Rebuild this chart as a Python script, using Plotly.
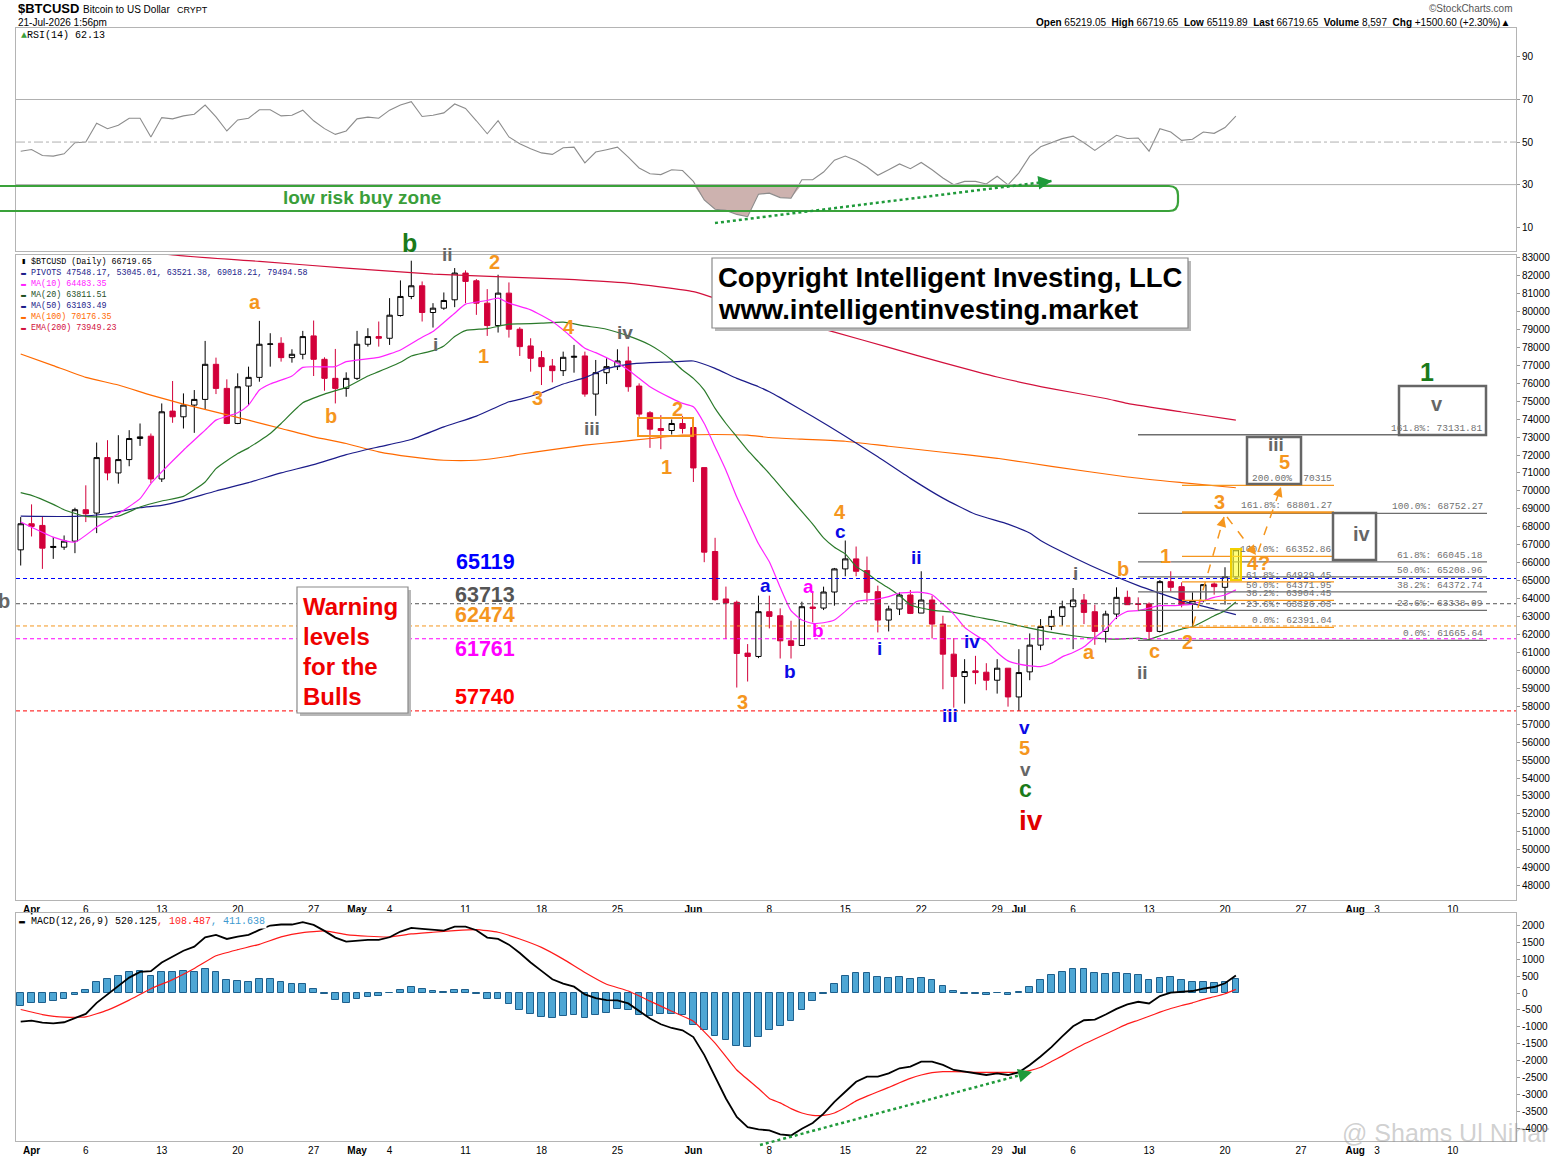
import pandas as pd
import numpy as np
import plotly.graph_objects as go
from plotly.subplots import make_subplots

# ---- data (daily, 31-Mar-2026 .. 21-Jul-2026) ----
dates = pd.date_range("2026-03-31", periods=113, freq="D")

opens = [66717, 68170, 68077, 66848, 66866, 67202, 68953, 68767, 71859, 71002,
         71747, 72921, 73051, 70667, 74449, 74132, 74784, 75101, 77057, 75716,
         73760, 75846, 76330, 78175, 78230, 77430, 77616, 78641, 77336, 76275,
         75716, 76275, 78175, 78603, 78510, 79777, 80839, 81435, 79945, 80187,
         80653, 82143, 81714, 80466, 79218, 81025, 79013, 78081, 77430, 76964,
         76703, 77448, 77523, 75399, 76591, 76927, 77243, 75846, 74356, 73480,
         73368, 73759, 73536, 71300, 66624, 63978, 63792, 60960, 60774, 63268,
         63044, 61647, 61386, 63529, 63473, 64367, 65653, 66212, 65559, 64386,
         62802, 63417, 64199, 63193, 63920, 62579, 60902, 59654, 59971, 59896,
         59449, 60120, 58517, 59914, 61405, 62448, 63007, 63547, 63920, 63268,
         62169, 63137, 64069, 63715, 63696, 62169, 64944, 64665, 63696, 63883,
         64814, 64628, 65219.05]
highs = [68543, 69251, 68580, 67425, 67518, 69065, 70313, 72697, 72828, 73107,
         73387, 73759, 73200, 74877, 76126, 75436, 75622, 78361, 77430, 76219,
         76554, 76927, 79479, 78790, 78566, 77895, 78920, 79497, 77448, 77914,
         76610, 78920, 79069, 79442, 80746, 81733, 82832, 81677, 80466, 81062,
         82422, 82292, 81807, 81248, 82050, 81621, 79125, 78510, 77802, 77355,
         77765, 78138, 77765, 77299, 77392, 77895, 78044, 75995, 74449, 74225,
         73983, 74169, 73573, 71300, 67388, 64668, 63886, 61464, 64165, 64162,
         63454, 62765, 63827, 64311, 64665, 65708, 67236, 66901, 66342, 64721,
         63603, 64348, 64479, 65522, 64162, 63044, 61796, 60623, 60809, 60399,
         60623, 60120, 61181, 62057, 62858, 63361, 63883, 64590, 64255, 63659,
         63324, 64627, 64441, 64069, 63790, 65038, 65522, 64907, 64348, 64814,
         64907, 65746, 66719.65]
lows = [65842, 67462, 65655, 66214, 66717, 66531, 68264, 67649, 70592, 70406,
        71375, 72511, 70443, 70499, 73797, 73480, 73238, 74542, 75399, 73722,
        73722, 74784, 76088, 76927, 77206, 77150, 77336, 76405, 75585, 74877,
        75250, 76181, 78044, 78044, 78138, 79721, 80690, 79442, 79106, 80094,
        80243, 80466, 79814, 78641, 78827, 78547, 77523, 76647, 75902, 76051,
        76405, 76591, 75250, 74188, 75958, 76740, 75529, 74132, 72400, 72325,
        73145, 73201, 70499, 66028, 63886, 61743, 59042, 59377, 60681, 62336,
        60660, 60660, 61386, 62672, 63361, 63603, 65243, 65243, 63790, 62113,
        62169, 63082, 63138, 63193, 61777, 58946, 57921, 58145, 59225, 58890,
        58704, 57977, 57740, 59449, 61125, 62243, 62485, 61181, 62579, 61424,
        61554, 62858, 63659, 63324, 61647, 62113, 64404, 63510, 62392, 63790,
        64218, 63659, 65119.89]
closes = [68170, 68022, 66810, 66904, 67202, 68953, 68730, 71859, 71002, 71747,
          72921, 73014, 70667, 74411, 74132, 74784, 75101, 77057, 75716, 73760,
          75809, 76330, 78175, 78190, 77430, 77616, 78603, 77336, 76275, 75716,
          76275, 78175, 78603, 78510, 79795, 80839, 81435, 79945, 80187, 80615,
          82143, 81677, 80466, 79218, 81025, 79013, 78044, 77392, 76927, 76703,
          77448, 77500, 75399, 76591, 76927, 77243, 75809, 74281, 73443, 73368,
          73759, 73480, 71281, 66587, 63941, 63755, 60942, 60774, 63270, 63007,
          61647, 61386, 63547, 63454, 64367, 65653, 66212, 65522, 64348, 62802,
          63417, 64199, 63175, 63920, 62579, 60902, 59654, 59933, 59877, 59449,
          60120, 58517, 59877, 61405, 62448, 63007, 63547, 63920, 63231, 62169,
          63137, 64069, 63659, 63678, 62169, 64944, 64628, 63659, 63883, 64777,
          64665, 65219, 66719.65]

# moving averages, read at sample days (index into dates)
ma10_idx = [0, 3, 5, 7, 9, 11, 12, 13, 15, 17, 18, 20, 21, 22, 23, 25, 26, 29, 30, 33,
            35, 37, 38, 40, 41, 43, 44, 45, 47, 49, 50, 52, 53, 55, 56, 57, 58, 60, 61, 62,
            63, 64, 65, 66, 67, 68, 69, 70, 71, 72, 73, 74, 75, 76, 77, 78, 79, 80, 81, 82,
            83, 84, 85, 86, 87, 88, 89, 90, 91, 92, 93, 94, 95, 96, 97, 98, 99, 100, 101, 102,
            103, 104, 105, 106, 107, 108, 109, 110, 111, 112]
ma10_val = [68264, 67425, 67145, 67984, 68730, 69568, 70406, 71058, 72269, 73387,
            73946, 74355, 74784, 75623, 75958, 76405, 76889, 76927, 77206, 77448,
            77858, 78566, 78883, 79907, 80410, 80615, 80746, 80466, 80094, 79442,
            78976, 77951, 77709, 77113, 76740, 76275, 75809, 75157, 74877, 74691,
            73759, 72455, 71151, 69660, 68357, 67053, 66050, 64628, 63324, 62802,
            62616, 62653, 62802, 63287, 63827, 63920, 63976, 64106, 64311, 64348,
            64348, 64218, 63696, 63137, 62392, 61964, 61591, 60995, 60529, 60343,
            60250, 60213, 60399, 60753, 60995, 61312, 61833, 62299, 62951, 63286,
            63324, 63473, 63603, 63603, 63640, 63696, 63883, 64069, 64199, 64483.35]

ma20_idx = [0, 1, 3, 4, 6, 9, 11, 13, 15, 17, 18, 20, 21, 23, 24, 26, 28, 30, 32, 33,
            35, 36, 38, 39, 40, 41, 43, 45, 46, 48, 50, 52, 54, 56, 58, 59, 60, 61, 62, 63,
            64, 65, 66, 67, 68, 69, 71, 73, 74, 75, 76, 77, 78, 79, 80, 81, 82, 83, 84, 86,
            88, 90, 92, 93, 95, 97, 99, 101, 103, 104, 105, 107, 108, 110, 111, 112]
ma20_val = [69903, 69754, 69251, 68953, 68580, 68599, 69102, 69437, 69698, 70499,
            71244, 72083, 72399, 73200, 73759, 74914, 75399, 75771, 76405, 76647,
            77169, 77523, 77821, 78081, 78603, 78938, 79050, 79293, 79311, 79348,
            79404, 79199, 79013, 78641, 78138, 77765, 77299, 76740, 76275, 75622,
            74598, 73759, 73014, 72269, 71617, 70965, 69550, 68150, 67385, 66864,
            66491, 65783, 65410, 64963, 64591, 64162, 63659, 63473, 63361, 63231,
            62988, 62765, 62486, 62355, 62113, 61927, 61796, 61740, 61796, 61721,
            61927, 62299, 62430, 63044, 63324, 63811.51]

ma50_idx = [0, 5, 8, 11, 13, 15, 18, 21, 24, 27, 30, 33, 36, 39, 42, 45, 46, 48, 50, 52,
            54, 56, 58, 60, 62, 64, 66, 68, 69, 70, 73, 76, 79, 82, 85, 88, 91, 93, 94, 97,
            100, 103, 105, 107, 110, 112]
ma50_val = [68599, 68580, 68729, 69065, 69195, 69475, 69997, 70462, 71002, 71468,
            72027, 72455, 72865, 73573, 74169, 74970, 75101, 75474, 75958, 76312,
            76815, 77057, 77150, 77188, 77243, 76833, 76275, 75809, 75529, 75200,
            74150, 73050, 71900, 70700, 69600, 68700, 68150, 67650, 67236, 66305,
            65466, 64721, 64293, 63883, 63417, 63103.49]

ma100_idx = [0, 3, 6, 9, 12, 15, 18, 21, 24, 27, 30, 33, 36, 39, 42, 45, 46, 49, 52, 55,
             58, 61, 64, 67, 69, 72, 76, 80, 85, 90, 95, 102, 107, 112]
ma100_val = [77634, 76982, 76330, 75902, 75343, 74840, 74393, 73946, 73480, 73014,
             72642, 72176, 71897, 71711, 71711, 71934, 72045, 72306, 72548, 72734,
             72921, 73107, 73145, 73107, 72977, 72882, 72770, 72491, 72155, 71820,
             71373, 70775, 70462, 70176.35]

ema200_idx = [0, 7, 14, 22, 30, 38, 45, 50, 56, 62, 64, 66, 70, 75, 80, 85, 90, 95, 100,
              102, 107, 112]
ema200_val = [84500, 83800, 83150, 82795, 82422, 82087, 81919, 81808, 81584, 81105,
              80737, 80380, 79700, 78850, 78000, 77150, 76350, 75700, 75150, 74877,
              74400, 73949.23]

rsi = [45.7, 46.5, 43.7, 43.4, 44.5, 49.7, 50.0, 58.8, 56.3, 57.9,
       61.2, 61.2, 52.4, 61.5, 60.9, 62.3, 63.1, 67.4, 61.8, 55.2,
       60.4, 61.2, 65.2, 65.2, 62.3, 62.6, 65.0, 60.0, 56.3, 53.6,
       55.2, 60.9, 61.7, 61.2, 65.0, 67.4, 69.0, 62.0, 62.6, 63.7,
       67.9, 65.8, 60.0, 53.9, 60.0, 52.4, 49.2, 46.8, 44.9, 44.2,
       47.3, 47.6, 40.2, 45.3, 46.4, 47.6, 42.9, 37.8, 35.1, 34.7,
       37.0, 36.6, 31.5, 22.8, 18.4, 17.9, 16.0, 14.9, 25.5, 26.0,
       23.9, 23.6, 32.3, 32.3, 35.9, 41.5, 43.4, 41.3, 38.3, 34.4,
       37.0, 39.7, 37.5, 40.4, 37.0, 33.1, 29.9, 31.5, 31.5, 30.3,
       33.9, 29.9, 35.5, 43.4, 47.8, 49.7, 51.6, 52.8, 49.7, 46.1,
       49.7, 53.2, 51.7, 51.9, 45.7, 56.3, 54.7, 50.8, 51.3, 54.7,
       54.1, 56.8, 62.13]

macd = [-846, -816, -876, -896, -866, -736, -617, -289, -40, 189,
        458, 627, 647, 905, 1075, 1254, 1373, 1652, 1721, 1602,
        1672, 1721, 1871, 2000, 2030, 2030, 2099, 2020, 1841, 1642,
        1522, 1552, 1572, 1572, 1652, 1821, 1930, 1900, 1871, 1851,
        1970, 1970, 1861, 1642, 1602, 1433, 1184, 905, 657, 408,
        279, 189, -40, -149, -209, -219, -308, -537, -756, -925,
        -1035, -1104, -1303, -1831, -2478, -3124, -3672, -3970, -4040, -4070,
        -4189, -4219, -4020, -3851, -3572, -3224, -2925, -2627, -2478, -2478,
        -2378, -2229, -2179, -2030, -2030, -2129, -2279, -2328, -2378, -2428,
        -2378, -2428, -2348, -2129, -1881, -1602, -1284, -985, -806, -786,
        -637, -468, -338, -259, -308, -90, 10, 30, 60, 129,
        179, 289, 520.125]

signal_idx = [0, 2, 4, 6, 8, 10, 12, 14, 16, 18, 20, 22, 24, 26, 28, 30, 32, 34, 36, 38,
              40, 42, 44, 46, 48, 50, 52, 54, 56, 58, 60, 62, 64, 66, 68, 69, 70, 71, 72, 73,
              74, 75, 76, 77, 78, 79, 80, 81, 82, 83, 84, 85, 86, 88, 90, 92, 93, 94, 95, 96,
              97, 98, 99, 100, 101, 102, 103, 104, 105, 106, 107, 108, 109, 110, 111, 112]
signal_val = [-488, -637, -716, -706, -507, -209, 129, 398, 726, 1104,
              1284, 1443, 1662, 1791, 1841, 1731, 1682, 1662, 1751, 1801,
              1851, 1881, 1801, 1602, 1353, 1005, 607, 259, 60, -239,
              -537, -836, -1483, -2279, -2826, -3124, -3254, -3423, -3552, -3622,
              -3622, -3552, -3393, -3194, -3055, -2925, -2796, -2657, -2527, -2428,
              -2358, -2328, -2328, -2348, -2348, -2348, -2298, -2199, -2030, -1861,
              -1682, -1512, -1363, -1214, -1065, -915, -806, -687, -567, -458,
              -368, -289, -189, -109, -20, 108.487]

hist = [-388, -289, -289, -249, -189, -50, 80, 328, 408, 507,
        627, 657, 507, 627, 627, 657, 627, 726, 627, 378,
        358, 328, 428, 428, 328, 259, 259, 109, -20, -219,
        -289, -189, -119, -90, -10, 80, 179, 109, 50, 30,
        80, 80, -40, -189, -189, -338, -488, -607, -706, -736,
        -687, -637, -736, -637, -587, -468, -507, -637, -667, -607,
        -607, -637, -935, -1100, -1264, -1383, -1582, -1602, -1313, -1104,
        -965, -816, -517, -239, -20, 259, 507, 587, 587, 478,
        438, 478, 408, 438, 378, 209, 60, -40, -40, -60,
        -10, -60, 30, 179, 378, 527, 627, 706, 706, 587,
        557, 587, 557, 527, 378, 438, 478, 378, 328, 328,
        289, 328, 411.638]

# warning levels
warn_vals = [65119, 63713, 62474, 61761, 57740]
warn_cols = ["#0000ff", "#555555", "#f5961e", "#ff00ff", "#ff0000"]

# fibonacci sets
fib_g_pct = ["0.0%", "23.6%", "38.2%", "50.0%", "61.8%", "100.0%", "161.8%"]
fib_g_val = [61665.64, 63338.09, 64372.74, 65208.96, 66045.18, 68752.27, 73131.81]
fib_o_pct = ["0.0%", "23.6%", "38.2%", "50.0%", "61.8%", "100.0%", "161.8%", "200.00%"]
fib_o_val = [62391.04, 63326.03, 63904.45, 64371.95, 64929.45, 66352.86, 68801.27, 70315]
fib_o_line = [True, False, True, False, True, True, True, True]

# ---- page geometry ----
# body margin is removed by a post script, so the figure fills the window
W, H = 1565, 1157
ML, MR = 16, 49
PW = W - ML - MR
FONT = "Liberation Sans, Arial, sans-serif"
MONO = "Liberation Mono, DejaVu Sans Mono, monospace"


def X(px):
    return (px - ML) / PW


def Y(py):
    return 1 - py / H


ORANGE = "#f5961e"
GRAY = "#666666"
BLUE = "#0a0ae6"
GREEN = "#1a7a1a"
MAG = "#ff00ff"
RED = "#e00000"
CANDLE_RED = "#d2003a"

fig = make_subplots(rows=3, cols=1, shared_xaxes=True)

# RSI panel
rsi_clip = np.minimum(np.array(rsi), 30)
fig.add_trace(go.Scatter(x=dates, y=[30] * len(dates), mode="lines",
                         line=dict(width=0, color="rgba(0,0,0,0)")), row=1, col=1)
fig.add_trace(go.Scatter(x=dates, y=rsi_clip, mode="lines", fill="tonexty",
                         fillcolor="#cdb2af", line=dict(width=0, color="rgba(0,0,0,0)")),
              row=1, col=1)
fig.add_trace(go.Scatter(x=dates, y=rsi, mode="lines",
                         line=dict(color="#8c8c8c", width=1.1)), row=1, col=1)

# price panel
fig.add_trace(go.Candlestick(
    x=dates, open=opens, high=highs, low=lows, close=closes,
    increasing=dict(line=dict(color="black", width=1), fillcolor="white"),
    decreasing=dict(line=dict(color=CANDLE_RED, width=1), fillcolor=CANDLE_RED),
    whiskerwidth=0), row=2, col=1)

for idx, val, col in [(ema200_idx, ema200_val, "#d2103c"),
                      (ma100_idx, ma100_val, "#ff6a00"),
                      (ma50_idx, ma50_val, "#1c1c8a"),
                      (ma20_idx, ma20_val, "#2b7a2b"),
                      (ma10_idx, ma10_val, "#ff22ff")]:
    fig.add_trace(go.Scatter(x=[dates[i] for i in idx], y=val, mode="lines",
                             line=dict(color=col, width=1.2, shape="spline", smoothing=0.5)),
                  row=2, col=1)

# MACD panel
fig.add_trace(go.Bar(x=dates, y=hist, width=0.62 * 86400000,
                     marker=dict(color="#4ea6d4", line=dict(color="#1d5f8c", width=1))),
              row=3, col=1)
fig.add_trace(go.Scatter(x=[dates[i] for i in signal_idx], y=signal_val, mode="lines",
                         line=dict(color="#ff1a1a", width=1.2, shape="spline", smoothing=0.4)),
              row=3, col=1)
fig.add_trace(go.Scatter(x=dates, y=macd, mode="lines",
                         line=dict(color="black", width=1.8)), row=3, col=1)

# ---- axes ----
x_lo = dates[0] - pd.Timedelta(days=0.433)
x_hi = dates[0] + pd.Timedelta(days=137.82)
tick_dates = ["2026-04-01", "2026-04-06", "2026-04-13", "2026-04-20", "2026-04-27",
              "2026-05-01", "2026-05-04", "2026-05-11", "2026-05-18", "2026-05-25",
              "2026-06-01", "2026-06-08", "2026-06-15", "2026-06-22", "2026-06-29",
              "2026-07-01", "2026-07-06", "2026-07-13", "2026-07-20", "2026-07-27",
              "2026-08-01", "2026-08-03", "2026-08-10"]
tick_text = ["<b>Apr</b>", "6", "13", "20", "27", "<b>May</b>", "4", "11", "18", "25",
             "<b>Jun</b>", "8", "15", "22", "29", "<b>Jul</b>", "6", "13", "20", "27",
             "<b>Aug</b>", "3", "10"]

axis_line = dict(showline=True, mirror=True, linecolor="#b4b4b4", linewidth=1,
                 showgrid=False, zeroline=False, automargin=False)
for k, show in [("xaxis", False), ("xaxis2", True), ("xaxis3", True)]:
    fig.layout[k].update(range=[x_lo, x_hi], tickvals=tick_dates, ticktext=tick_text,
                         showticklabels=show, ticks="", tickfont=dict(size=10, color="black"),
                         rangeslider=dict(visible=False), **axis_line)

price_ticks = list(range(48000, 84000, 1000))
macd_ticks = list(range(-4000, 2500, 500))
fig.layout.yaxis.update(domain=[Y(251), Y(28)], range=[-1.2, 103.6], side="right",
                        tickvals=[10, 30, 50, 70, 90], ticks="outside", ticklen=3,
                        tickcolor="#999", tickfont=dict(size=10), **axis_line)
fig.layout.yaxis2.update(domain=[Y(900), Y(255)], range=[47200, 83150], side="right",
                         tickvals=price_ticks, ticktext=[str(v) for v in price_ticks],
                         ticks="outside", ticklen=3, tickcolor="#999",
                         tickfont=dict(size=10), **axis_line)
fig.layout.yaxis3.update(domain=[Y(1141), Y(913)], range=[-4383, 2371], side="right",
                         tickvals=macd_ticks, ticktext=[str(v) for v in macd_ticks],
                         ticks="outside", ticklen=3, tickcolor="#999",
                         tickfont=dict(size=10), **axis_line)

shapes = []
ann = []


def txt(s, px, py, color="black", size=20, bold=True, xa="center", ya="middle",
        family=FONT, bg=None):
    d = dict(text=f"<b>{s}</b>" if bold else s, x=X(px), y=Y(py), xref="paper",
             yref="paper", xanchor=xa, yanchor=ya, showarrow=False,
             font=dict(color=color, size=size, family=family))
    if bg:
        d["bgcolor"] = bg
    ann.append(d)


def rect(x0, y0, x1, y1, line="#777", lw=1.5, fill=None, shadow=False):
    if shadow:
        shapes.append(dict(type="rect", xref="paper", yref="paper", x0=X(x0 + 3),
                           x1=X(x1 + 3), y0=Y(y1 + 3), y1=Y(y0 + 3),
                           fillcolor="#b8b8b8", line=dict(width=0)))
    shapes.append(dict(type="rect", xref="paper", yref="paper", x0=X(x0), x1=X(x1),
                       y0=Y(y1), y1=Y(y0), fillcolor=fill or "rgba(0,0,0,0)",
                       line=dict(color=line, width=lw)))


def arrow(tail, head, color, dash, width, size=1.2):
    shapes.append(dict(type="line", xref="paper", yref="paper", x0=X(tail[0]),
                       y0=Y(tail[1]), x1=X(head[0]), y1=Y(head[1]),
                       line=dict(color=color, width=width, dash=dash)))
    dx, dy = head[0] - tail[0], head[1] - tail[1]
    n = (dx * dx + dy * dy) ** 0.5
    ann.append(dict(x=X(head[0]), y=Y(head[1]), xref="paper", yref="paper", text="",
                    showarrow=True, ax=-dx / n * 10, ay=-dy / n * 10, arrowhead=2,
                    arrowsize=size, arrowwidth=width, arrowcolor=color))


# RSI reference lines
for lvl, dash in [(70, "solid"), (30, "solid"), (50, "dashdot")]:
    shapes.append(dict(type="line", xref="x domain", yref="y", x0=0, x1=1, y0=lvl, y1=lvl,
                       line=dict(color="#b0b0b0", width=1, dash=dash)))

# low risk buy zone
r = 9
p = (f"M {X(-8)},{Y(186)} L {X(1178 - r)},{Y(186)} Q {X(1178)},{Y(186)} {X(1178)},{Y(186 + r)} "
     f"L {X(1178)},{Y(211 - r)} Q {X(1178)},{Y(211)} {X(1178 - r)},{Y(211)} L {X(-8)},{Y(211)}")
shapes.append(dict(type="path", xref="paper", yref="paper", path=p,
                   line=dict(color="#3aa23a", width=2.2)))
txt("low risk buy zone", 362, 197, "#3a9e3a", 19)
arrow((715, 223), (1052, 181), "#1f9a3a", "dot", 2.5, 1.1)

# warning levels
for v, c in zip(warn_vals, warn_cols):
    shapes.append(dict(type="line", xref="x2 domain", yref="y2", x0=0, x1=1, y0=v, y1=v,
                       line=dict(color=c, width=1, dash="4px,3px")))
for v, c, py in zip(warn_vals, warn_cols, [562, 595, 615, 649, 697]):
    txt(str(v), 485, py, c, 21.5)

# warning box and copyright box
rect(297, 587, 408, 713, "#8a8a8a", 1.2, "white", shadow=True)
for k, line in enumerate(["Warning", "levels", "for the", "Bulls"]):
    txt(line, 301, 606 + 30 * k, "#ee0000", 24, xa="left")
rect(712, 258, 1188, 328, "#8a8a8a", 1.2, "white", shadow=True)
txt("Copyright Intelligent Investing, LLC", 716, 278, "black", 27.5, xa="left")
txt("www.intelligentinvesting.market", 716, 310, "black", 27.5, xa="left")

# fib levels
for pct, v in zip(fib_g_pct, fib_g_val):
    shapes.append(dict(type="line", xref="paper", yref="y2", x0=X(1138), x1=X(1487),
                       y0=v, y1=v, line=dict(color="#6e6e6e", width=1.3)))
for pct, v, ln in zip(fib_o_pct, fib_o_val, fib_o_line):
    if ln:
        shapes.append(dict(type="line", xref="paper", yref="y2", x0=X(1182), x1=X(1334),
                           y0=v, y1=v,
                           line=dict(color=ORANGE, width=2.2 if pct == "161.8%" else 1.3)))

# wave boxes
rect(1399, 386, 1486, 435, "#666", 2.5, "white")
rect(1247, 437, 1301, 484, "#666", 2.5, "white")
rect(1333, 513, 1376, 560, "#666", 2.5, "white")
rect(638, 418, 693, 436, ORANGE, 2)
# highlight last candle
rect(1231, 549, 1241, 580, "#f2d000", 2, "rgba(255,255,40,0.6)")

for pct, v in zip(fib_g_pct, fib_g_val):
    ann.append(dict(text=f"{pct}: {v:.2f}", x=X(1485), y=v, xref="paper", yref="y2",
                    xanchor="right", yanchor="bottom", showarrow=False, yshift=-1,
                    font=dict(size=9.5, color="#707070", family=MONO)))
for pct, v in zip(fib_o_pct, fib_o_val):
    s = f"{pct}: {v:.2f}" if pct != "200.00%" else f"{pct}  {v}"
    ann.append(dict(text=s, x=X(1334), y=v, xref="paper", yref="y2",
                    xanchor="right", yanchor="bottom", showarrow=False, yshift=-1,
                    font=dict(size=9.5, color="#707070", family=MONO)))

# orange projection arrows
arrow((1193, 625), (1224, 517), ORANGE, "dash", 1.5, 1.3)
arrow((1227, 517), (1256, 555), ORANGE, "dash", 1.5, 1.3)
arrow((1258, 552), (1281, 487), ORANGE, "dash", 1.5, 1.3)

# MACD green arrow
arrow((760, 1145), (1032, 1072), "#1f9a3a", "dot", 2.5, 1.1)

# ---- wave labels ----
wave_labels = [
    ("b", 409, 243, GREEN, 25), ("1", 1427, 372, GREEN, 25), ("c", 1025, 789, GREEN, 23),
    ("iv", 1031, 820, RED, 28),
    ("a", 255, 302, ORANGE, 20), ("b", 331, 416, ORANGE, 20), ("2", 494, 262, ORANGE, 20),
    ("1", 483, 356, ORANGE, 20), ("4", 569, 327, ORANGE, 20), ("3", 537, 398, ORANGE, 20),
    ("2", 677, 409, ORANGE, 20), ("1", 666, 467, ORANGE, 20), ("3", 742, 702, ORANGE, 20),
    ("4", 840, 512, ORANGE, 20), ("b", 1123, 569, ORANGE, 20), ("a", 1089, 652, ORANGE, 20),
    ("c", 1154, 651, ORANGE, 20), ("1", 1165, 556, ORANGE, 20), ("2", 1187, 642, ORANGE, 20),
    ("3", 1219, 502, ORANGE, 20), ("4?", 1258, 563, ORANGE, 20), ("5", 1284, 462, ORANGE, 20),
    ("5", 1024, 748, ORANGE, 20),
    ("ii", 448, 255, GRAY, 19), ("i", 435, 344, GRAY, 19), ("iv", 625, 332, GRAY, 19),
    ("iii", 592, 428, GRAY, 19), ("i", 1075, 573, GRAY, 19), ("ii", 1142, 672, GRAY, 19),
    ("v", 1025, 769, GRAY, 19), ("iii", 1276, 445, GRAY, 19), ("iv", 1362, 534, GRAY, 20),
    ("v", 1437, 404, GRAY, 20), ("b", 4, 601, GRAY, 20),
    ("c", 840, 531, BLUE, 19), ("a", 765, 585, BLUE, 19), ("b", 790, 671, BLUE, 19),
    ("i", 880, 648, BLUE, 19), ("ii", 916, 557, BLUE, 19), ("iii", 950, 715, BLUE, 19),
    ("iv", 972, 641, BLUE, 19), ("v", 1024, 727, BLUE, 19),
    ("a", 808, 586, MAG, 19), ("b", 818, 631, MAG, 19),
]
for s, px, py, c, sz in wave_labels:
    txt(s, px, py, c, sz)

# ---- header / legends ----
txt('<b>$BTCUSD</b> <span style="font-size:10px">Bitcoin to US Dollar</span>'
    '  <span style="font-size:9px">CRYPT</span>', 16, 9, "black", 13, bold=False, xa="left")
txt("21-Jul-2026 1:56pm", 16, 22, "black", 10, bold=False, xa="left")
txt("©StockCharts.com", 1515, 9, "#555", 10, bold=False, xa="right")
txt("<b>Open</b> 65219.05  <b>High</b> 66719.65  <b>Low</b> 65119.89  <b>Last</b> 66719.65"
    "  <b>Volume</b> 8,597  <b>Chg</b> +1500.60 (+2.30%)▲", 1512, 22, "black", 10,
    bold=False, xa="right")
txt('<span style="color:#3a9e3a">▲</span>RSI(14) 62.13', 19, 35, "black", 10,
    bold=False, xa="left", family=MONO)

legend_rows = [
    ("▮ $BTCUSD (Daily) 66719.65", "black"),
    ("▬ PIVOTS 47548.17, 53045.01, 63521.38, 69018.21, 79494.58", "#1c1c8a"),
    ("▬ MA(10) 64483.35", "#ff22ff"),
    ("▬ MA(20) 63811.51", "#1f4f1f"),
    ("▬ MA(50) 63103.49", "#1c1c8a"),
    ("▬ MA(100) 70176.35", "#ff6a00"),
    ("▬ EMA(200) 73949.23", "#d2103c"),
]
for k, (s, c) in enumerate(legend_rows):
    txt(s, 19, 262 + 11 * k, c, 8.4, bold=False, xa="left", family=MONO)

txt('▬ MACD(12,26,9) 520.125<span style="color:#ff1a1a">, 108.487</span>'
    '<span style="color:#3e9ad0">, 411.638</span>', 17, 921, "black", 10, bold=False,
    xa="left", family=MONO, bg="white")

txt("@ Shams Ul Nihar", 1445, 1133, "rgba(150,150,150,0.45)", 25, bold=False)

fig.update_layout(width=W, height=H, margin=dict(l=ML, r=MR, t=0, b=0),
                  paper_bgcolor="white", plot_bgcolor="white", showlegend=False,
                  hovermode=False, font=dict(family=FONT, size=10, color="black"),
                  shapes=shapes, annotations=ann, bargap=0)

fig.write_html("out.html", config={"displayModeBar": False},
               post_script="document.body.style.margin='0';document.body.style.overflow='hidden';")
